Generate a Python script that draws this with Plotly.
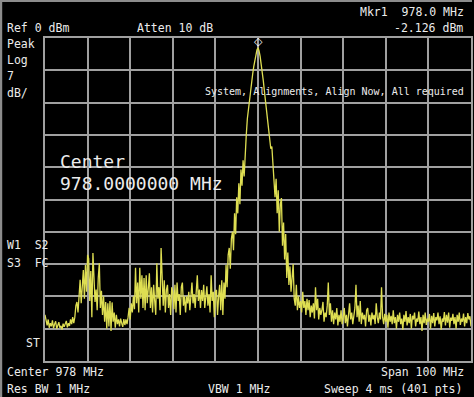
import numpy as np
import plotly.graph_objects as go

# ---- data ----
center_mhz = 978.0
span_mhz = 100.0
ref_level_dbm = 0.0
db_per_div = 7.0
marker_freq_mhz = 978.0
marker_level_dbm = -2.126

trace_dbm = [
    # 0-27 baseline
    -60.0, -61.5, -62.3, -61.0, -62.8, -61.8, -62.5, -61.2, -62.9, -62.0,
    -61.4, -63.0, -62.2, -61.6, -62.8, -62.4, -63.2, -61.9, -62.6, -62.1,
    -61.3, -62.7, -61.8, -62.4, -61.0, -62.0, -60.5, -61.8,
    # 28-61 first hump
    -60.5, -58.0, -57.2, -59.5, -56.0, -52.4, -57.5, -54.0, -50.3, -56.5,
    -49.2, -55.0, -47.0, -47.8, -57.0, -50.5, -60.5, -46.6, -52.0, -57.2,
    -54.5, -59.0, -52.0, -48.8, -58.5, -54.8, -60.0, -56.0, -61.5, -57.2,
    -63.0, -57.5, -62.5, -57.0,
    # 62-77 low
    -63.5, -57.3, -61.5, -59.5, -62.8, -60.0, -62.0, -61.0, -62.5, -60.8,
    -61.8, -62.6, -60.9, -62.2, -61.0, -62.0,
    # 78-167 second hump
    -60.5, -58.5, -61.0, -57.5, -59.5, -56.0, -58.8, -49.8, -57.5, -53.0,
    -59.5, -49.8, -56.5, -51.4, -58.5, -52.0, -59.0, -51.4, -57.5, -55.0,
    -51.0, -58.5, -54.0, -59.5, -53.5, -57.0, -60.0, -48.8, -56.5, -54.0,
    -59.0, -45.5, -55.0, -58.0, -52.5, -59.5, -54.6, -53.5, -58.5, -55.5,
    -60.0, -54.0, -55.0, -58.8, -53.5, -59.5, -53.0, -57.0, -55.5, -60.0,
    -54.0, -53.0, -58.0, -56.0, -59.5, -56.0, -57.5, -55.0, -59.0, -54.5,
    -53.0, -57.5, -55.5, -58.5, -54.0, -51.4, -57.0, -54.5, -58.5, -54.6,
    -57.0, -53.5, -58.5, -55.0, -53.8, -58.0, -55.5, -59.5, -51.4, -57.0,
    -55.0, -60.5, -55.0, -54.6, -60.0, -56.0, -53.5, -59.0, -52.5, -60.0,
    # 168-199 rising side
    -53.0, -56.5, -49.2, -54.0, -47.0, -45.5, -50.0, -43.5, -42.0, -46.0,
    -38.0, -42.5, -34.5, -38.0, -31.5, -36.0, -28.5, -32.0, -26.5, -30.0,
    -24.5, -21.0, -17.5, -15.3, -13.2, -11.3, -9.5, -7.8, -6.2, -4.8,
    -3.6, -2.6,
    # 200 peak
    -2.13,
    # 201-234 falling side
    -2.8, -4.0, -5.5, -7.3, -9.3, -11.5, -13.5, -15.8, -18.0, -20.5,
    -22.5, -24.0, -23.5, -27.0, -29.0, -34.5, -30.5, -38.0, -33.0, -42.0,
    -36.0, -34.7, -45.0, -40.0, -48.0, -42.5, -52.0, -46.5, -53.5, -49.5,
    -55.0, -51.5, -49.0, -56.5,
    # 235-313 decaying tail
    -58.0, -53.5, -59.0, -56.0, -58.5, -57.0, -59.5, -55.0, -58.5, -57.0,
    -60.0, -56.5, -59.0, -56.8, -60.5, -58.0, -59.5, -57.5, -60.8, -54.0,
    -59.0, -56.5, -61.0, -58.5, -60.0, -59.0, -57.2, -61.5, -59.5, -60.5,
    -58.0, -53.0, -60.0, -57.5, -61.5, -59.0, -62.0, -59.5, -61.0, -58.5,
    -62.3, -60.0, -61.5, -59.0, -62.0, -60.5, -58.5, -61.8, -60.0, -62.5,
    -59.5, -57.5, -61.0, -59.5, -62.0, -60.0, -58.5, -53.5, -60.5, -58.0,
    -61.5, -57.0, -62.0, -59.5, -61.0, -60.0, -62.5, -59.0, -58.5, -61.5,
    -60.0, -62.3, -59.5, -61.0, -60.0, -62.0, -57.5, -60.5, -61.8,
    # 314-400 baseline
    -59.5, -61.0, -54.0, -60.5, -62.0, -59.8, -61.5, -60.0, -62.8, -59.5,
    -61.5, -60.2, -62.0, -59.0, -61.8, -60.5, -63.0, -60.0, -61.5, -59.5,
    -62.0, -60.8, -63.2, -60.0, -61.5, -59.2, -62.3, -60.5, -61.8, -59.8,
    -63.0, -60.2, -61.0, -59.5, -62.5, -60.8, -61.5, -59.3, -62.0, -60.5,
    -63.5, -60.0, -61.8, -59.5, -62.2, -60.8, -61.5, -59.8, -63.0, -60.2,
    -61.8, -59.6, -62.5, -60.5, -61.2, -59.5, -62.0, -60.3, -63.2, -60.8,
    -61.5, -59.4, -62.3, -60.0, -61.7, -59.5, -62.8, -60.6, -61.3, -59.8,
    -62.0, -60.5, -63.0, -60.0, -61.5, -59.5, -62.2, -60.8, -61.5, -59.7,
    -62.5, -60.5, -61.8, -59.6, -61.0, -60.3, -62.5,
]

freq_mhz = np.linspace(center_mhz - span_mhz / 2, center_mhz + span_mhz / 2, len(trace_dbm))

# ---- figure ----
GRID = "#a0a0a0"
TXT = "#ececec"
MONO = "DejaVu Sans Mono"

fig = go.Figure()
fig.add_trace(go.Scatter(
    x=freq_mhz, y=trace_dbm, mode="lines",
    line=dict(color="#dede52", width=1.3),
    hoverinfo="skip", showlegend=False,
))

x0 = center_mhz - span_mhz / 2
x1 = center_mhz + span_mhz / 2
ybot = ref_level_dbm - 10 * db_per_div

fig.update_xaxes(range=[x0, x1], dtick=span_mhz / 10, tick0=x0,
                 showgrid=True, gridcolor=GRID, gridwidth=1.5,
                 showline=True, linecolor=GRID, linewidth=1.5, mirror=True,
                 showticklabels=False, ticks="", zeroline=False, fixedrange=True)
fig.update_yaxes(range=[ybot, ref_level_dbm], dtick=db_per_div, tick0=ybot,
                 showgrid=True, gridcolor=GRID, gridwidth=1.5,
                 showline=True, linecolor=GRID, linewidth=1.5, mirror=True,
                 showticklabels=False, ticks="", zeroline=False, fixedrange=True)

def txt(s, x, y, xanchor="left", size=11.5, font=MONO):
    fig.add_annotation(text=s, x=x, y=y, xref="paper", yref="paper",
                       xanchor=xanchor, yanchor="middle", showarrow=False,
                       font=dict(family=font, size=size, color=TXT))

# header
txt("Ref 0 dBm", -0.0935, 1.031)
txt("Atten 10 dB", 0.2103, 1.031)
txt("Mkr1  978.0 MHz", 0.9883, 1.0805, "right")
txt("-2.126 dBm", 0.986, 1.031, "right")
# left column
txt("Peak", -0.0935, 0.9814)
txt("Log", -0.0935, 0.9319)
txt("7", -0.0935, 0.8824)
txt("dB/", -0.0935, 0.8297)
txt("W1  S2", -0.0935, 0.359)
txt("S3  FC", -0.0935, 0.303)
txt("ST", -0.007, 0.0557, "right")
# message
txt("System, Alignments, Align Now, All required", 0.9883, 0.8359, "right", size=10)
# big center readout
txt("Center", 0.0304, 0.619, size=18)
txt("978.0000000 MHz", 0.0304, 0.548, size=18)
# footer
txt("Center 978 MHz", -0.0935, -0.034)
txt("Span 100 MHz", 0.9883, -0.034, "right")
txt("Res BW 1 MHz", -0.0935, -0.0867)
txt("VBW 1 MHz", 0.3785, -0.0867)
txt("Sweep 4 ms (401 pts)", 0.9836, -0.0867, "right")

# marker diamond above the peak
fig.add_annotation(text="◇", x=marker_freq_mhz, y=marker_level_dbm, xref="x", yref="y",
                   showarrow=False, yshift=6, xanchor="center", yanchor="middle",
                   font=dict(family="DejaVu Sans", size=11, color="#ffffff"))

# outer gray frame (top and left edges)
fig.add_shape(type="line", xref="paper", yref="paper", x0=-45/428, x1=1+1/428, y0=1+38/323, y1=1+38/323,
              line=dict(color="#8c8c8c", width=4))
fig.add_shape(type="line", xref="paper", yref="paper", x0=-45/428, x1=-45/428, y0=-36/323, y1=1+38/323,
              line=dict(color="#8c8c8c", width=4))

fig.update_layout(
    width=474, height=397,
    margin=dict(l=45, r=1, t=38, b=36),
    paper_bgcolor="#000000", plot_bgcolor="#000000",
    hovermode=False,
)

fig.write_html("out.html", config={"displayModeBar": False},
               post_script="document.body.style.margin='0px';document.body.style.background='#000';")
